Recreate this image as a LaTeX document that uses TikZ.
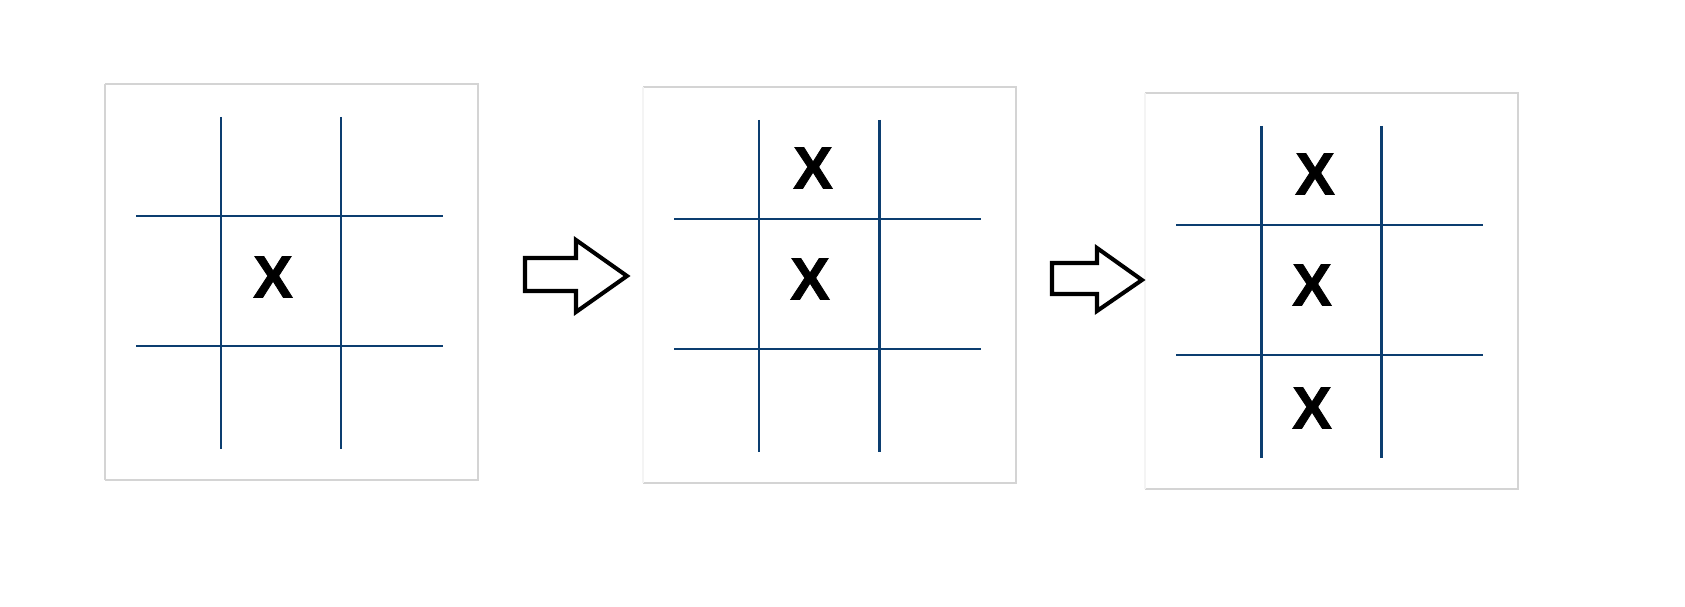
\documentclass[tikz,border=0pt]{standalone}
\usepackage{fontspec}
\setmainfont{Liberation Sans}
\newfontfamily\markfont[FakeBold=1.2]{Liberation Sans Bold}
\definecolor{gridblue}{RGB}{12,62,112}
\definecolor{framegray}{RGB}{212,212,212}
\definecolor{faintgray}{RGB}{244,244,244}
\tikzset{
  boardframe/.style={draw=framegray,line width=0.6pt},
  gridline/.style={draw=gridblue,line width=1.7pt},
  xmark/.style={font=\markfont\fontsize{34}{34}\selectfont,inner sep=0pt},
  movearrow/.style={draw=black,line width=2.3pt,fill=white,line join=miter}
}
\begin{document}
\begin{tikzpicture}[x=0.02cm,y=-0.02cm]
	\useasboundingbox (0,0) rectangle (1685,607);
	% the three boards (left edge of the later two is almost white)
	\foreach \bx/\by/\lc in {105/84/framegray,643/87/faintgray,1145/93/faintgray}{
		\begin{scope}[shift={(\bx,\by)}]
			\draw[boardframe] (0,0) -- (373,0) -- (373,396) -- (0,396);
			\draw[boardframe,draw=\lc] (0,0) -- (0,396);
			\foreach \gx in {116,236} \draw[gridline] (\gx,33) -- (\gx,365);
			\foreach \gy in {132,262} \draw[gridline] (31,\gy) -- (338,\gy);
		\end{scope}
	}
	% marks
	\node [xmark] (a1) at (273,277) {X};
	\node [xmark] (b1) at (813,168) {X};
	\node [xmark] (b2) at (810,279) {X};
	\node [xmark] (c1) at (1315,174) {X};
	\node [xmark] (c2) at (1312,285) {X};
	\node [xmark] (c3) at (1312,408) {X};
	% arrows between boards
	\draw[movearrow] (525,258) -- (576,258) -- (576,240) -- (627,276) -- (576,312) -- (576,291) -- (525,291) -- cycle;
	\draw[movearrow] (1052,263) -- (1097,263) -- (1097,248) -- (1142,280) -- (1097,311) -- (1097,294) -- (1052,294) -- cycle;
\end{tikzpicture}
\end{document}
